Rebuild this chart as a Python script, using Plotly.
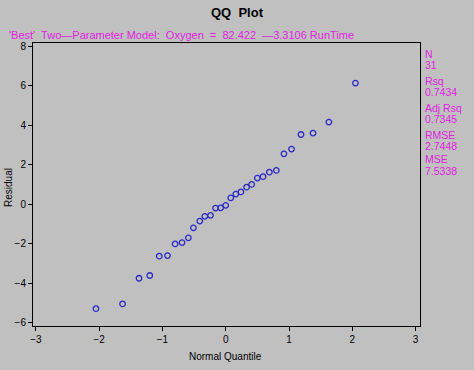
import plotly.graph_objects as go

# Normal quantiles (x) and residuals (y)
normal_quantile = [-2.05, -1.63, -1.37, -1.20, -1.05, -0.92, -0.80, -0.69, -0.59, -0.51,
                   -0.41, -0.33, -0.24, -0.16, -0.08, 0.00, 0.08, 0.16, 0.24, 0.33,
                   0.41, 0.50, 0.59, 0.69, 0.80, 0.92, 1.04, 1.19, 1.38, 1.63, 2.05]
residual = [-5.30, -5.06, -3.76, -3.62, -2.64, -2.61, -2.02, -1.95, -1.71, -1.20,
            -0.86, -0.62, -0.57, -0.20, -0.19, -0.06, 0.32, 0.51, 0.62, 0.86,
            1.00, 1.32, 1.39, 1.62, 1.71, 2.55, 2.79, 3.53, 3.60, 4.16, 6.14]

x_ticks = [-3, -2, -1, 0, 1, 2, 3]
y_ticks = [-6, -4, -2, 0, 2, 4, 6, 8]

stat_labels = ["N", "Rsq", "Adj Rsq", "RMSE", "MSE"]
stat_values = ["31", "0.7434", "0.7345", "2.7448", "7.5338"]

title_text = "QQ  Plot"
subtitle_text = "'Best'\u00a0 Two\u2014Parameter Model:\u00a0 Oxygen\u00a0 =\u00a0 82.422\u00a0 \u20143.3106 RunTime"

BG = "#C0C0C0"
MAG = "#E020E0"
FONT = "Liberation Sans, Arial, sans-serif"

L, R, T, B = 33, 54, 43, 44
PW, PH = 474 - L - R, 370 - T - B

fig = go.Figure()
fig.add_trace(go.Scatter(
    x=normal_quantile, y=residual, mode="markers",
    marker=dict(symbol="circle-open", size=5.5, color="#2828C8", line=dict(width=1.3)),
    hoverinfo="x+y", showlegend=False,
))

fig.update_layout(
    width=474, height=370,
    margin=dict(l=L, r=R, t=T, b=B),
    paper_bgcolor=BG, plot_bgcolor=BG,
    font=dict(family=FONT, size=10, color="black"),
    showlegend=False,
    xaxis=dict(range=[-3.045, 3.07], tickvals=x_ticks, ticks="outside", ticklen=4,
               tickcolor="black", showgrid=False, zeroline=False, showline=True,
               linecolor="black", linewidth=1, mirror=True, automargin=False,
               tickfont=dict(size=10)),
    yaxis=dict(range=[-6.18, 8.17], tickvals=y_ticks, ticks="outside", ticklen=4,
               tickcolor="black", showgrid=False, zeroline=False, showline=True,
               linecolor="black", linewidth=1, mirror=True, automargin=False,
               tickfont=dict(size=10)),
)

def px(xp):
    return (xp - L) / PW

def py(yp):
    return 1 - (yp - T) / PH

ann = []
ann.append(dict(text="<b>" + title_text + "</b>", xref="paper", yref="paper",
                x=px(237), y=py(13), showarrow=False,
                font=dict(size=13, color="black", family=FONT),
                xanchor="center", yanchor="middle"))
ann.append(dict(text=subtitle_text, xref="paper", yref="paper",
                x=px(7), y=py(35), showarrow=False,
                font=dict(size=11, color=MAG, family=FONT),
                xanchor="left", yanchor="middle"))
ann.append(dict(text="Normal Quantile", xref="paper", yref="paper",
                x=px(225), y=py(357), showarrow=False,
                font=dict(size=10, color="black", family=FONT),
                xanchor="center", yanchor="middle"))
ann.append(dict(text="Residual", xref="paper", yref="paper",
                x=px(8), y=py(188), showarrow=False, textangle=-90,
                font=dict(size=10, color="black", family=FONT),
                xanchor="center", yanchor="middle"))
label_y = [54, 80.5, 108, 134.5, 159]
value_y = [65, 91.5, 119, 145.5, 171]
for lab, val, ly, vy in zip(stat_labels, stat_values, label_y, value_y):
    for t, yy in ((lab, ly), (val, vy)):
        ann.append(dict(text=t, xref="paper", yref="paper",
                        x=px(423), y=py(yy), showarrow=False,
                        font=dict(size=10.5, color=MAG, family=FONT),
                        xanchor="left", yanchor="middle"))
fig.update_layout(annotations=ann)

fig.write_html("out.html")
